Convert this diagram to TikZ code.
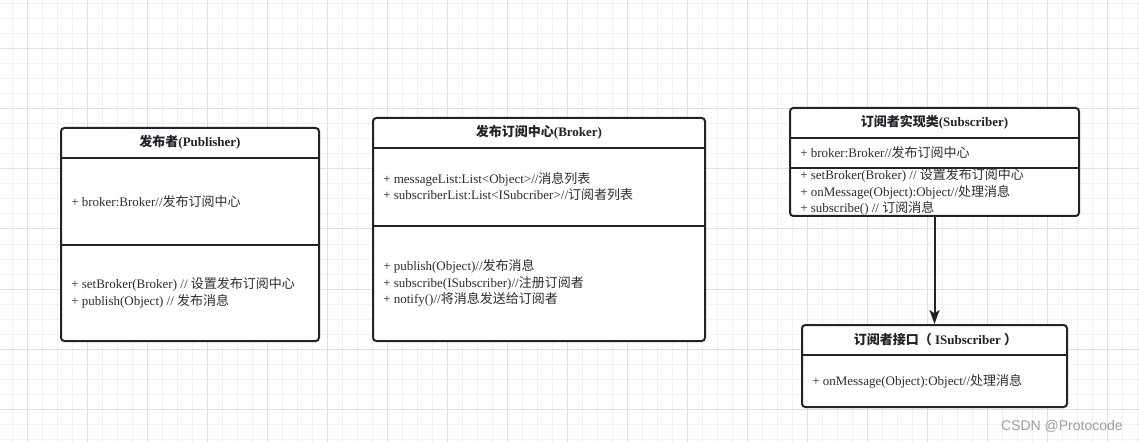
\documentclass[tikz,border=0pt]{standalone}
\usepackage{fontspec}
\setmainfont{Liberation Serif}
\newfontfamily\cjk{Noto Sans CJK SC}
\newfontfamily\wmfont{Liberation Sans}
\usepackage{xcolor}
\usepackage{tikz}
\usetikzlibrary{arrows.meta, positioning, shapes}
\definecolor{umlline}{RGB}{32,35,40}
\definecolor{umltext}{RGB}{45,45,45}
\definecolor{gridminor}{RGB}{240,240,240}
\definecolor{gridmajor}{RGB}{224,224,224}
\newcommand{\zh}[1]{{\cjk #1}}

\begin{document}
\begin{tikzpicture}[x=0.75pt, y=-0.75pt,
  classbox/.style={draw=umlline, fill=white, line width=1.5pt, rounded corners=2.5pt},
  classline/.style={draw=umlline, line width=1.5pt},
  classtitle/.style={font=\fontsize{9.75}{12}\selectfont\bfseries, text=umlline, inner sep=0pt},
  member/.style={anchor=west, align=left, font=\fontsize{9.75}{12.2}\selectfont, text=umltext, inner sep=0pt}]
\useasboundingbox (0,0) rectangle (1139,442);
\fill[white] (0,0) rectangle (1139,442);
% background grid
\foreach \gx in {12.3,27.3,...,1139} \draw[gridminor, line width=0.75pt] (\gx,0) -- (\gx,442);
\foreach \gy in {4,19,...,442} \draw[gridminor, line width=0.75pt] (0,\gy) -- (1139,\gy);
\foreach \gx in {27.3,87.3,...,1139} \draw[gridmajor, line width=0.75pt] (\gx,0) -- (\gx,442);
\foreach \gy in {49,109,...,442} \draw[gridmajor, line width=0.75pt] (0,\gy) -- (1139,\gy);

% Publisher
\node[classbox, minimum width=193.5pt, minimum height=159.75pt] (pub) at (190,234.5) {};
\draw[classline] (pub.west |- 0,158) -- (pub.east |- 0,158);
\draw[classline] (pub.west |- 0,245) -- (pub.east |- 0,245);
\node[classtitle] (pubTitle) at (190,142.5) {\zh{发布者}(Publisher)};
\node[member] (pubAttr) at (71,202) {+ broker:Broker//\zh{发布订阅中心}};
\node[member] (pubOps) at (71,293) {+ setBroker(Broker) // \zh{设置发布订阅中心}\\+ publish(Object) // \zh{发布消息}};

% Broker
\node[classbox, minimum width=249pt, minimum height=167.25pt] (broker) at (539,229.5) {};
\draw[classline] (broker.west |- 0,148) -- (broker.east |- 0,148);
\draw[classline] (broker.west |- 0,226) -- (broker.east |- 0,226);
\node[classtitle] (brokerTitle) at (539,132.5) {\zh{发布订阅中心}(Broker)};
\node[member] (brokerAttr) at (383,186.5) {+ messageList:List<Object>//\zh{消息列表}\\+ subscriberList:List<ISubcriber>//\zh{订阅者列表}};
\node[member] (brokerOps) at (383,283) {+ publish(Object)//\zh{发布消息}\\+ subscribe(ISubscriber)//\zh{注册订阅者}\\+ notify()//\zh{将消息发送给订阅者}};

% Subscriber
\node[classbox, minimum width=216.75pt, minimum height=81pt] (sub) at (934.5,162) {};
\draw[classline] (sub.west |- 0,138) -- (sub.east |- 0,138);
\draw[classline] (sub.west |- 0,168) -- (sub.east |- 0,168);
\node[classtitle] (subTitle) at (934.5,122.5) {\zh{订阅者实现类}(Subscriber)};
\node[member] (subAttr) at (800,153) {+ broker:Broker//\zh{发布订阅中心}};
\node[member] (subOps) at (800,192) {+ setBroker(Broker) // \zh{设置发布订阅中心}\\+ onMessage(Object):Object//\zh{处理消息}\\+ subscribe() // \zh{订阅消息}};

% ISubscriber
\node[classbox, minimum width=198.75pt, minimum height=61.5pt] (isub) at (934.5,366) {};
\draw[classline] (isub.west |- 0,355) -- (isub.east |- 0,355);
\node[classtitle] (isubTitle) at (935.5,339.5) {\zh{订阅者接口（} ISubscriber \zh{）}};
\node[member] (isubAttr) at (812,381) {+ onMessage(Object):Object//\zh{处理消息}};

\draw[umlline, line width=1.5pt, -{Stealth[length=10.5pt, width=7.5pt, inset=2.5pt]}] (sub) -- (isub);

\node[anchor=east, font=\wmfont\fontsize{10.5}{12}\selectfont, text=black!38, inner sep=0pt] (mark) at (1123,426) {CSDN @Protocode};
\end{tikzpicture}
\end{document}
